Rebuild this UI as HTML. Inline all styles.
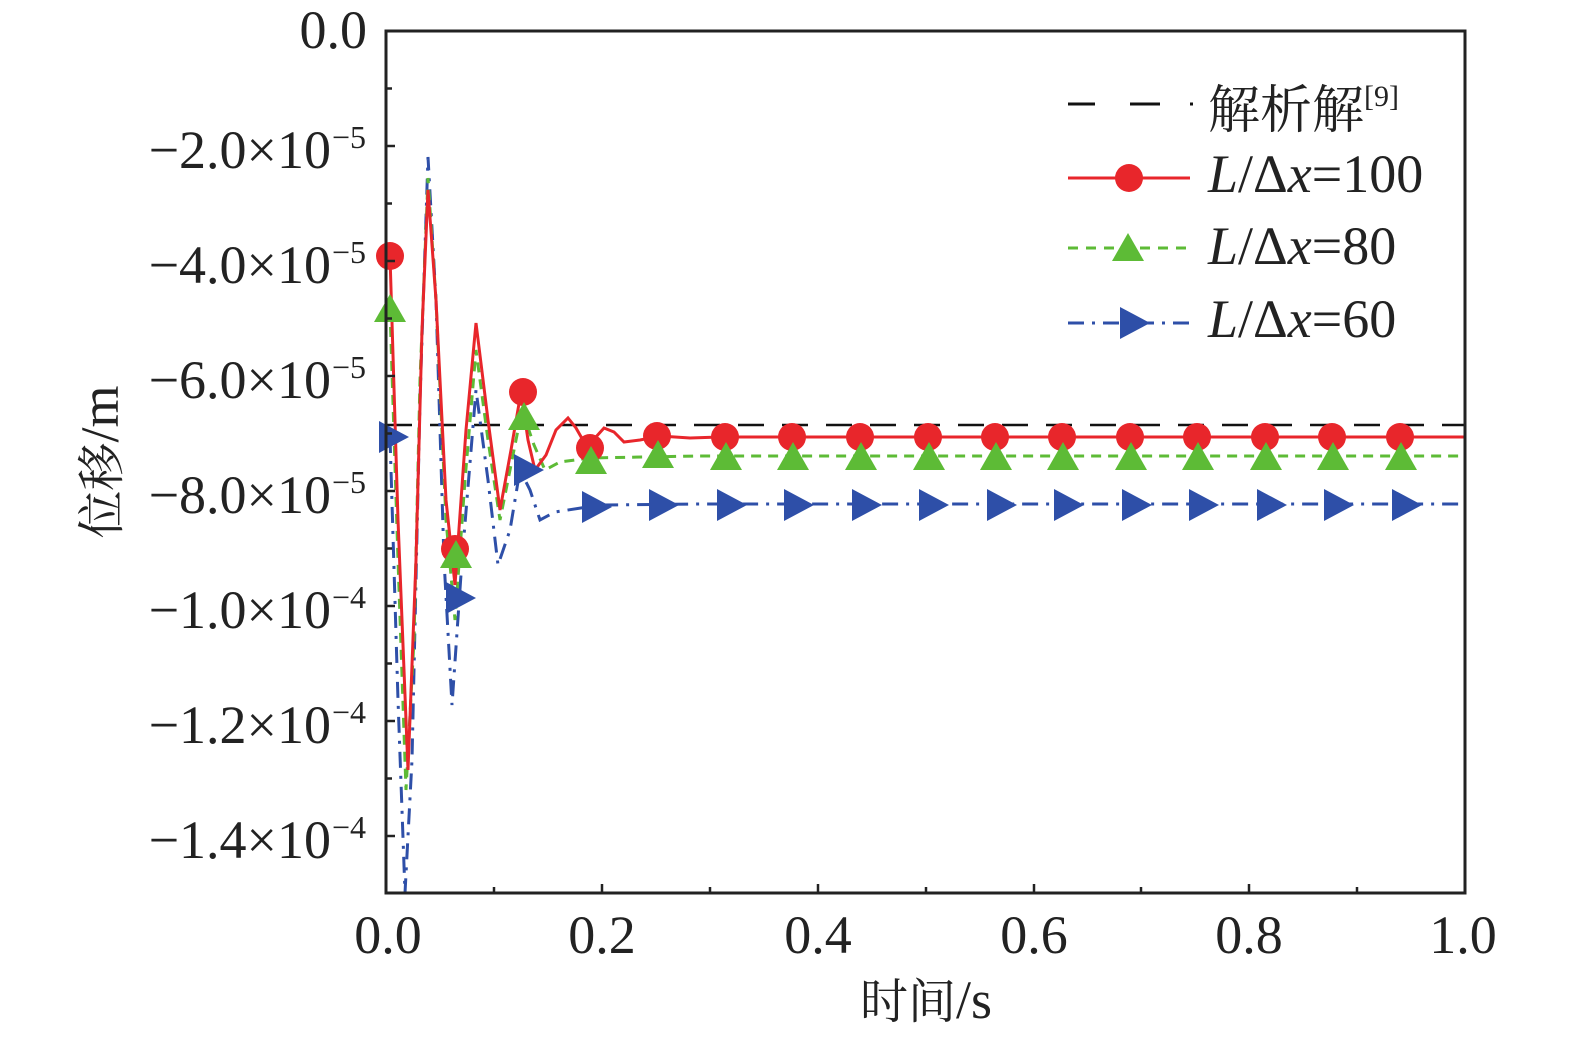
<!DOCTYPE html>
<html><head><meta charset="utf-8"><style>
html,body{margin:0;padding:0;background:#fff;}
svg{display:block;}
text{font-family:"Liberation Serif",serif;fill:#222;}
.cjk{font-family:"Noto Serif CJK SC","Noto Sans CJK SC",serif;}
</style></head><body>
<svg width="1575" height="1041" viewBox="0 0 1575 1041" xmlns="http://www.w3.org/2000/svg">
<defs>
<clipPath id="c"><rect x="386" y="31" width="1079" height="862"/></clipPath>
</defs>
<line x1="386" y1="425" x2="1465" y2="425" stroke="#111" stroke-width="2.5" stroke-dasharray="26,18" clip-path="url(#c)"/>
<g clip-path="url(#c)" fill="none" stroke-width="3">
<path d="M390,437 L398,700 L405,893 L412,760 L420,400 L428,157 L436,300 L444,560 L452,705 L462,560 L476,390 L488,480 L498,565 L510,530 L520,470 L530,490 L540,520 L555,512 L600,505 L700,504 L1465,504" stroke="#2e4fa8" stroke-dasharray="16,8,3,8"/>
<path d="M390,310 L398,560 L406,790 L414,640 L420,380 L428,178 L436,300 L446,520 L455,620 L465,480 L476,350 L488,440 L500,520 L512,460 L522,410 L534,445 L545,470 L560,462 L590,458 L700,456 L1465,456" stroke="#5dbb36" stroke-dasharray="10,7"/>
<path d="M390,256 L398,520 L408,770 L416,560 L422,330 L428,190 L436,300 L446,500 L455,585 L466,430 L476,323 L488,420 L500,510 L511,450 L521,392 L528,440 L535,470 L546,455 L556,430 L568,418 L576,428 L584,442 L595,438 L604,428 L614,432 L624,442 L640,440 L660,436 L690,438 L720,437 L1465,437" stroke="#e8262b"/>
</g>
<g fill="#e8262b">
<circle cx="390" cy="256" r="14"/><circle cx="455" cy="549" r="14"/><circle cx="523" cy="392" r="14"/><circle cx="590" cy="448" r="14"/>
<circle cx="657" cy="436" r="14"/><circle cx="725" cy="437" r="14"/><circle cx="792" cy="437" r="14"/><circle cx="860" cy="437" r="14"/><circle cx="928" cy="437" r="14"/><circle cx="995" cy="437" r="14"/><circle cx="1062" cy="437" r="14"/><circle cx="1130" cy="437" r="14"/><circle cx="1197" cy="437" r="14"/><circle cx="1265" cy="437" r="14"/><circle cx="1332" cy="437" r="14"/><circle cx="1400" cy="437" r="14"/>
</g>
<g fill="#5dbb36">
<path d="M390,294 l-16,28 h32z"/><path d="M456,540 l-16,28 h32z"/><path d="M524,402 l-16,28 h32z"/><path d="M591,446 l-16,28 h32z"/>
<path d="M658,440 l-16,28 h32z"/><path d="M726,442 l-16,28 h32z"/><path d="M793,442 l-16,28 h32z"/><path d="M861,442 l-16,28 h32z"/><path d="M929,442 l-16,28 h32z"/><path d="M996,442 l-16,28 h32z"/><path d="M1063,442 l-16,28 h32z"/><path d="M1131,442 l-16,28 h32z"/><path d="M1198,442 l-16,28 h32z"/><path d="M1266,442 l-16,28 h32z"/><path d="M1333,442 l-16,28 h32z"/><path d="M1401,442 l-16,28 h32z"/>
</g>
<g fill="#2e4fa8">
<path d="M379,421 v32 l30,-16z"/><path d="M446,582 v32 l30,-16z"/><path d="M514,454 v32 l30,-16z"/><path d="M582,491 v32 l30,-16z"/>
<path d="M649,489 v32 l30,-16z"/><path d="M717,489 v32 l30,-16z"/><path d="M784,489 v32 l30,-16z"/><path d="M852,489 v32 l30,-16z"/><path d="M919,489 v32 l30,-16z"/><path d="M987,489 v32 l30,-16z"/><path d="M1054,489 v32 l30,-16z"/><path d="M1122,489 v32 l30,-16z"/><path d="M1189,489 v32 l30,-16z"/><path d="M1257,489 v32 l30,-16z"/><path d="M1324,489 v32 l30,-16z"/><path d="M1392,489 v32 l30,-16z"/>
</g>
<rect x="386" y="31" width="1079" height="862" fill="none" stroke="#222" stroke-width="3"/>
<g stroke="#222" stroke-width="2.5">
<path d="M386,146h9M386,261h9M386,376h9M386,491h9M386,606h9M386,721h9M386,836h9"/>
<path d="M386,88.5h6M386,203.5h6M386,318.5h6M386,433.5h6M386,548.5h6M386,663.5h6M386,778.5h6"/>
<path d="M602,893v-9M818,893v-9M1034,893v-9M1249,893v-9"/>
<path d="M494,893v-6M710,893v-6M926,893v-6M1141,893v-6M1357,893v-6"/>
</g>
<g font-size="54" text-anchor="end">
<text x="367" y="48">0.0</text>
<text x="331" y="168">−2.0×10</text><text x="331" y="283">−4.0×10</text><text x="331" y="398">−6.0×10</text><text x="331" y="513">−8.0×10</text><text x="331" y="628">−1.0×10</text><text x="331" y="743">−1.2×10</text><text x="331" y="858">−1.4×10</text>
</g>
<g font-size="32">
<text x="332" y="148">−5</text><text x="332" y="263">−5</text><text x="332" y="378">−5</text><text x="332" y="493">−5</text><text x="332" y="608">−4</text><text x="332" y="723">−4</text><text x="332" y="838">−4</text>
</g>
<g font-size="54" text-anchor="middle">
<text x="388" y="953">0.0</text><text x="602" y="953">0.2</text><text x="818" y="953">0.4</text><text x="1034" y="953">0.6</text><text x="1249" y="953">0.8</text><text x="1463" y="953">1.0</text>
<text x="926" y="1018"><tspan class="cjk" font-size="48">时间</tspan>/s</text>
</g>
<text font-size="54" text-anchor="middle" transform="translate(118,462) rotate(-90)"><tspan class="cjk" font-size="48">位移</tspan>/m</text>
<g stroke-width="3">
<line x1="1068" y1="104" x2="1095" y2="104" stroke="#111"/><line x1="1130" y1="104" x2="1160" y2="104" stroke="#111"/><line x1="1190" y1="104" x2="1193" y2="104" stroke="#111"/>
<line x1="1068" y1="178" x2="1190" y2="178" stroke="#e8262b"/>
<line x1="1068" y1="248" x2="1190" y2="248" stroke="#5dbb36" stroke-dasharray="10,8"/>
<line x1="1068" y1="323" x2="1190" y2="323" stroke="#2e4fa8" stroke-dasharray="16,8,3,8"/>
</g>
<circle cx="1129" cy="178" r="14" fill="#e8262b"/>
<path d="M1128,233 l-16,28 h32z" fill="#5dbb36"/>
<path d="M1120,307 v32 l30,-16z" fill="#2e4fa8"/>
<g font-size="54">
<text x="1208" y="128"><tspan class="cjk" font-size="52">解析解</tspan><tspan font-size="30" dy="-22">[9]</tspan></text>
<text x="1208" y="192"><tspan font-style="italic">L</tspan>/Δ<tspan font-style="italic">x</tspan>=100</text>
<text x="1208" y="264"><tspan font-style="italic">L</tspan>/Δ<tspan font-style="italic">x</tspan>=80</text>
<text x="1208" y="337"><tspan font-style="italic">L</tspan>/Δ<tspan font-style="italic">x</tspan>=60</text>
</g>
</svg>
</body></html>
